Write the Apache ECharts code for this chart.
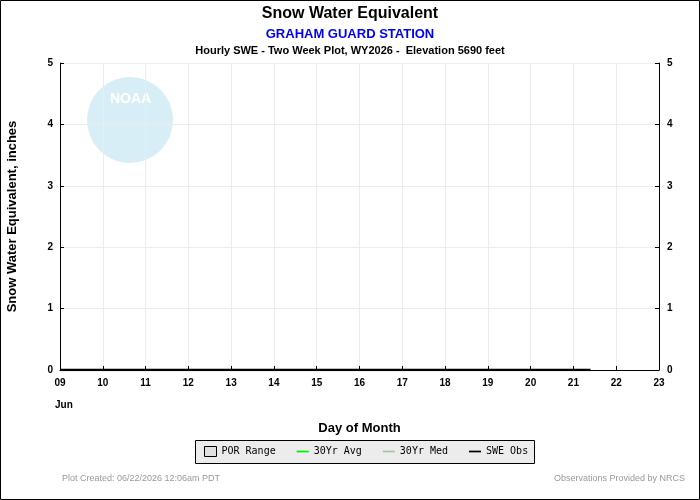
<!DOCTYPE html>
<html><head><meta charset="utf-8">
<script src="https://cdn.jsdelivr.net/npm/echarts@6/dist/echarts.min.js"></script>
<style>html,body{margin:0;padding:0;background:#fff}#c{width:700px;height:500px}</style>
</head><body><div id="c"></div>
<script>
const obsDays = [9, 10, 11, 12, 13, 14, 15, 16, 17, 18, 19, 20, 21, 21.4];
const obsSWE = [0, 0, 0, 0, 0, 0, 0, 0, 0, 0, 0, 0, 0, 0];
const yTicks = [0, 1, 2, 3, 4, 5];
const dayLabels = ['09','10','11','12','13','14','15','16','17','18','19','20','21','22','23'];

const chart = echarts.init(document.getElementById('c'));
const F = 'Liberation Sans, Arial, sans-serif';
chart.setOption({
  animation: false,
  backgroundColor: '#fff',
  title: [
    {text: 'Snow Water Equivalent', left: 'center', top: 1, textStyle: {fontFamily: F, fontSize: 16, fontWeight: 'bold', color: '#000'}},
    {text: 'GRAHAM GUARD STATION', left: 'center', top: 23, textStyle: {fontFamily: F, fontSize: 13, fontWeight: 'bold', color: '#0000ff'}},
    {text: 'Hourly SWE - Two Week Plot, WY2026 -  Elevation 5690 feet', left: 'center', top: 40, textStyle: {fontFamily: F, fontSize: 11, fontWeight: 'bold', color: '#000'}}
  ],
  grid: {left: 60, right: 41, top: 63, bottom: 130, outerBoundsMode: 'none', containLabel: false},
  xAxis: {
    type: 'value', min: 9, max: 23, interval: 1,
    name: 'Day of Month', nameLocation: 'middle', nameGap: 52,
    nameTextStyle: {fontFamily: F, fontSize: 13, fontWeight: 'bold', color: '#000'},
    axisLine: {lineStyle: {color: '#000'}},
    axisTick: {inside: true, length: 4, lineStyle: {color: '#000'}},
    axisLabel: {fontFamily: F, fontSize: 10, fontWeight: 'bold', color: '#000', margin: 8,
      formatter: v => dayLabels[Math.round(v) - 9]},
    splitLine: {show: true, lineStyle: {color: '#ececec'}}
  },
  yAxis: [
    {type: 'value', min: 0, max: 5, interval: 1,
     name: 'Snow Water Equivalent, inches', nameLocation: 'middle', nameGap: 41,
     nameTextStyle: {fontFamily: F, fontSize: 13, fontWeight: 'bold', color: '#000'},
     axisLine: {show: true, lineStyle: {color: '#000'}},
     axisTick: {show: true, inside: true, length: 4, lineStyle: {color: '#000'}},
     axisLabel: {fontFamily: F, fontSize: 10, fontWeight: 'bold', color: '#000', margin: 7, formatter: v => yTicks.includes(v) ? String(v) : ''},
     splitLine: {show: true, lineStyle: {color: '#ececec'}}},
    {type: 'value', min: 0, max: 5, interval: 1, position: 'right',
     axisLine: {show: true, lineStyle: {color: '#000'}},
     axisTick: {show: true, inside: true, length: 4, lineStyle: {color: '#000'}},
     axisLabel: {fontFamily: F, fontSize: 10, fontWeight: 'bold', color: '#000', margin: 8},
     splitLine: {show: false}}
  ],
  legend: {
    left: 204, top: 446, itemGap: 21, itemWidth: 12, itemHeight: 10, padding: 0,
    textStyle: {fontFamily: 'DejaVu Sans Mono, monospace', fontSize: 10, color: '#000'},
    data: [
      {name: 'POR Range', icon: 'rect', itemStyle: {color: '#e0e0e0', borderColor: '#000', borderWidth: 1}},
      {name: '30Yr Avg', icon: 'path://M0,4h14v2h-14z', itemStyle: {color: '#00ee00'}},
      {name: '30Yr Med', icon: 'path://M0,4h14v2h-14z', itemStyle: {color: '#a0c8a0'}},
      {name: 'SWE Obs', icon: 'path://M0,4h14v2h-14z', itemStyle: {color: '#000'}}
    ]
  },
  graphic: [
    {type: 'rect', shape: {x: 0.5, y: 0.5, width: 699, height: 499}, style: {fill: 'none', stroke: '#000', lineWidth: 1}, z: -1},
    {type: 'rect', shape: {x: 195.5, y: 440.5, width: 339, height: 23}, style: {fill: '#ececec', stroke: '#000', lineWidth: 1}, z: -1},
    {type: 'circle', shape: {cx: 130, cy: 120, r: 43}, style: {fill: '#cdeaf5', opacity: 0.8}, z: -1},
    {type: 'text', left: 110, top: 92, style: {text: 'NOAA', fill: '#fff', font: 'bold 14px ' + F}, z: -1},
    {type: 'text', left: 55, top: 400, style: {text: 'Jun', fill: '#000', font: 'bold 10px ' + F}},
    {type: 'text', left: 62, top: 474, style: {text: 'Plot Created: 06/22/2026 12:06am PDT', fill: '#999', font: '9px ' + F}},
    {type: 'text', right: 15, top: 474, style: {text: 'Observations Provided by NRCS', fill: '#999', font: '9px ' + F}}
  ],
  series: [
    {name: 'POR Range', type: 'line', data: []},
    {name: '30Yr Avg', type: 'line', data: []},
    {name: '30Yr Med', type: 'line', data: []},
    {name: 'SWE Obs', type: 'line', showSymbol: false, lineStyle: {color: '#000', width: 2.5}, itemStyle: {color: '#000'},
     data: obsDays.map((d, i) => [d, obsSWE[i]])}
  ]
});
</script></body></html>
